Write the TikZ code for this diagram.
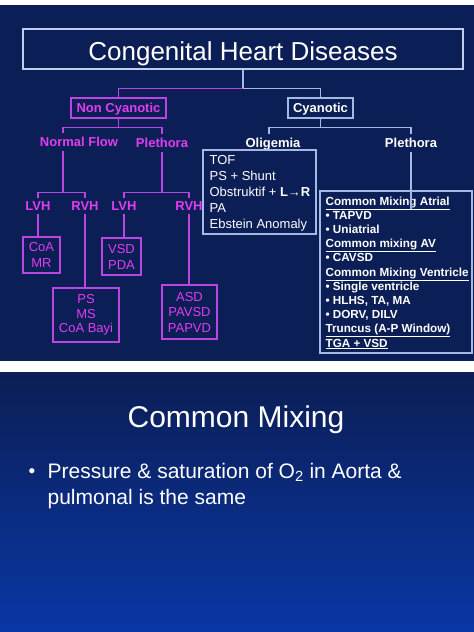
\documentclass[tikz,border=0pt]{standalone}
\usepackage{fontspec}
\setmainfont{Liberation Sans}
\definecolor{slidedark}{HTML}{0B1E55}
\definecolor{slideblue}{HTML}{0A37A6}
\definecolor{pinktext}{HTML}{E23CF0}
\definecolor{pinkline}{HTML}{BC44E0}
\definecolor{paleline}{HTML}{A6B8E4}
\newcommand{\pxsize}[1]{\fontsize{#1}{#1}\selectfont}

\begin{document}
\begin{tikzpicture}[x=1pt,y=-1pt,line width=1.2pt,
  lbl/.style={font=\pxsize{13}\bfseries,text depth=0pt},
  pinklbl/.style={lbl,text=pinktext},
  whitelbl/.style={lbl,text=white},
  pinkbox/.style={draw=pinkline,text=pinktext,inner sep=0pt,align=center,font=\fontsize{13}{16}\selectfont},
  palebox/.style={draw=paleline,inner sep=0pt},
  pinkwire/.style={draw=pinkline},
  palewire/.style={draw=paleline}]
\useasboundingbox (0,0) rectangle (474,632);
\fill[white] (0,0) rectangle (474,632);
\shade[top color=slidedark,middle color=slideblue,bottom color=slidedark] (0,5) rectangle (474,360);
\shade[top color=slidedark,bottom color=slideblue] (0,372) rectangle (474,632);

\node[palebox,draw=paleline!70!white,line width=1.5pt,minimum width=440,minimum height=40] (title) at (243,49) {};
\node[anchor=base,text=white,font=\pxsize{26}] (titletxt) at (243,60) {Congenital Heart Diseases};

\node[pinkbox,font=\pxsize{13}\bfseries,text depth=0pt,minimum width=95,minimum height=20] (noncyan) at (118.5,108) {Non Cyanotic};
\node[palebox,whitelbl,minimum width=65,minimum height=20] (cyan) at (320.5,108) {Cyanotic};

\node[pinklbl] (nflow) at (79,142) {Normal Flow};
\node[pinklbl] (plethA) at (162,143) {Plethora};
\node[pinklbl] (lvhA) at (38,206) {LVH};
\node[pinklbl] (rvhA) at (85,206) {RVH};
\node[pinklbl] (lvhB) at (124,206) {LVH};
\node[pinklbl] (rvhB) at (189,206) {RVH};

\node[pinkbox,minimum width=37,minimum height=36] (coabox) at (41.5,255) {CoA\\MR};
\node[pinkbox,minimum width=66,minimum height=54,font=\fontsize{13}{14.5}\selectfont] (psbox) at (86,315) {PS\\MS\\CoA Bayi};
\node[pinkbox,minimum width=39,minimum height=37] (vsdbox) at (121.5,256.5) {VSD\\PDA};
\node[pinkbox,minimum width=55,minimum height=54,font=\fontsize{13}{15.5}\selectfont] (asdbox) at (189.5,312) {ASD\\PAVSD\\PAPVD};

\node[whitelbl] (olig) at (273,143) {Oligemia};
\node[whitelbl] (plethC) at (411,143) {Plethora};
\node[palebox,minimum width=113,minimum height=84] (oligbox) at (259.5,192) {};
\foreach \t [count=\i from 0] in {TOF,PS + Shunt,Obstruktif + \textbf{L}→\textbf{R},PA,Ebstein Anomaly}
  \node[anchor=base west,inner sep=0pt,text=white,font=\pxsize{13}] (oligtxt\i) at (209,164.5+16*\i) {\t};

\node[palebox,minimum width=152,minimum height=162] (mixbox) at (396,272) {};
\foreach \t [count=\i from 0] in {\underline{Common Mixing Atrial},\textbullet\ TAPVD,\textbullet\ Uniatrial,
    \underline{Common mixing AV},\textbullet\ CAVSD,\underline{Common Mixing Ventricle},\textbullet\ Single ventricle,
    {\textbullet\ HLHS, TA, MA},{\textbullet\ DORV, DILV},\underline{Truncus (A-P Window)},\underline{TGA + VSD}}
  \node[anchor=base west,inner sep=0pt,text=white,font=\pxsize{11.7}\bfseries] (mixtxt\i) at (325,205+14.2*\i) {\t};

\draw[palewire] (title.south) -- ++(0,19) coordinate (titlej);
\draw[pinkwire] (titlej) -| (noncyan.north);
\draw[palewire] (titlej) -| (cyan.north);

\draw[pinkwire] (noncyan.south) -- ++(0,9) coordinate (noncyanj);
\draw[pinkwire] ([xshift=-16pt]nflow.north) |- (noncyanj) -| (plethA.north);
\draw[pinkwire] (lvhA.north) -- ++(0,-5) coordinate (lvhAj) -| ([xshift=-16pt]nflow.south);
\draw[pinkwire] (lvhAj) -| (rvhA.north);
\draw[pinkwire] (lvhB.north) -- ++(0,-5) coordinate (lvhBj) -| (plethA.south);
\draw[pinkwire] (lvhBj) -| (rvhB.north);
\draw[pinkwire] (lvhA.south) -- (lvhA.south |- coabox.north);
\draw[pinkwire] (rvhA.south) -- (rvhA.south |- psbox.north);
\draw[pinkwire] (lvhB.south) -- (lvhB.south |- vsdbox.north);
\draw[pinkwire] (rvhB.south) -- (rvhB.south |- asdbox.north);

\draw[palewire] (cyan.south) -- ++(0,9) coordinate (cyanj);
\draw[palewire] ([xshift=-4pt]olig.north) |- (cyanj) -| (plethC.north);
\draw[palewire] (plethC.south) -- ([yshift=-19pt]plethC.south |- mixbox.north);

\node[anchor=base,text=white,font=\pxsize{30}] (mixtitle) at (236,427) {Common Mixing};
\node[anchor=base,text=white,font=\pxsize{19}] (dot) at (32,477) {\textbullet};
\node[anchor=base west,inner sep=0pt,text=white,font=\pxsize{21}] (point1) at (47,478) {Pressure \& saturation of O\textsubscript{2} in Aorta \&};
\node[anchor=base west,inner sep=0pt,text=white,font=\pxsize{21}] (point2) at (47,504) {pulmonal is the same};
\end{tikzpicture}
\end{document}
